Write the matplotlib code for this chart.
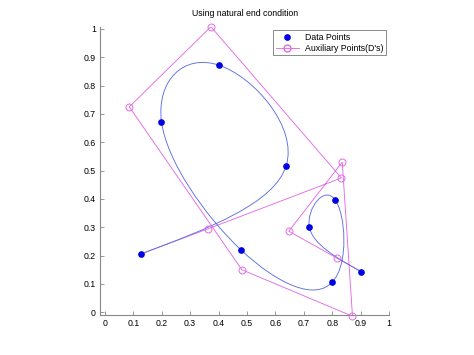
import matplotlib
matplotlib.use("Agg")
import matplotlib.pyplot as plt
from matplotlib.path import Path
from matplotlib.patches import PathPatch
from matplotlib.lines import Line2D
import numpy as np

plt.rcParams['font.family'] = ['Liberation Sans', 'DejaVu Sans']

# data points, in the order the curve passes them
data_x = [0.127, 0.638, 0.402, 0.199, 0.479, 0.800, 0.809, 0.719, 0.902]
data_y = [0.206, 0.518, 0.872, 0.673, 0.220, 0.107, 0.398, 0.302, 0.143]

# auxiliary points D0..D8 (B-spline control points)
aux_x = [0.364, 0.832, 0.373, 0.086, 0.482, 0.871, 0.835, 0.647, 0.815]
aux_y = [0.295, 0.474, 1.008, 0.725, 0.150, -0.014, 0.530, 0.286, 0.192]

x_ticks = [0, 0.1, 0.2, 0.3, 0.4, 0.5, 0.6, 0.7, 0.8, 0.9, 1]
y_ticks = [0, 0.1, 0.2, 0.3, 0.4, 0.5, 0.6, 0.7, 0.8, 0.9, 1]

curve_col = '#5f6fe0'
aux_col = '#e36be6'
dot_col = '#0000e6'
fs = 6.3

fig = plt.figure(figsize=(4.74, 3.55), dpi=100)
ax = fig.add_axes([0.211, 0.114, 0.610, 0.810])

# build the spline as cubic bezier segments (natural end condition)
P = np.column_stack([data_x, data_y])
D = np.column_stack([aux_x, aux_y])
L = len(P) - 1
verts = [P[0]]
codes = [Path.MOVETO]
for i in range(L):
    if i == 0:
        b1 = D[0]
        b2 = (D[0] + D[1]) / 2
    elif i == L - 1:
        b1 = (D[i] + D[i + 1]) / 2
        b2 = D[i + 1]
    else:
        b1 = (2 * D[i] + D[i + 1]) / 3
        b2 = (D[i] + 2 * D[i + 1]) / 3
    verts += [b1, b2, P[i + 1]]
    codes += [Path.CURVE4] * 3
ax.add_patch(PathPatch(Path(verts, codes), fill=False, edgecolor=curve_col, lw=0.65, zorder=2))

# control polygon: P0, D0..D8, P8
poly_x = [data_x[0]] + aux_x + [data_x[-1]]
poly_y = [data_y[0]] + aux_y + [data_y[-1]]
ax.plot(poly_x, poly_y, '-', color=aux_col, lw=0.65, zorder=1)
ax.plot(aux_x, aux_y, 'o', mfc='none', mec=aux_col, ms=5.0, mew=0.7, clip_on=False, zorder=3)

ax.plot(data_x, data_y, 'o', color=dot_col, ms=3.8, mec=dot_col, zorder=4, clip_on=False)

ax.set_xlim(-0.017, 1.0)
ax.set_ylim(-0.008, 1.007)
ax.set_xticks(x_ticks)
ax.set_yticks(y_ticks)
ax.set_xticklabels([('%g' % v) for v in x_ticks])
ax.set_yticklabels([('%g' % v) for v in y_ticks])
ax.tick_params(direction='in', length=3, width=0.6, color='#888888', labelsize=fs, pad=3)
for s in ['top', 'right']:
    ax.spines[s].set_visible(False)
for s in ['left', 'bottom']:
    ax.spines[s].set_color('#888888')
    ax.spines[s].set_linewidth(0.8)

ax.set_title('Using natural end condition', fontsize=fs, pad=8)

handles = [
    Line2D([], [], ls='none', marker='o', color=dot_col, ms=3.8),
    Line2D([], [], ls='-', marker='o', color=aux_col, mfc='none', ms=5.0, lw=0.65),
]
leg = ax.legend(handles, ['Data Points', "Auxiliary Points(D's)"], loc='upper right',
                bbox_to_anchor=(0.989, 0.988), fontsize=fs, fancybox=False,
                handlelength=2.6, borderpad=0.3, labelspacing=0.2, handletextpad=0.7,
                borderaxespad=0)
leg.get_frame().set_edgecolor('#555555')
leg.get_frame().set_linewidth(0.6)

fig.savefig('out.png', dpi=100)
